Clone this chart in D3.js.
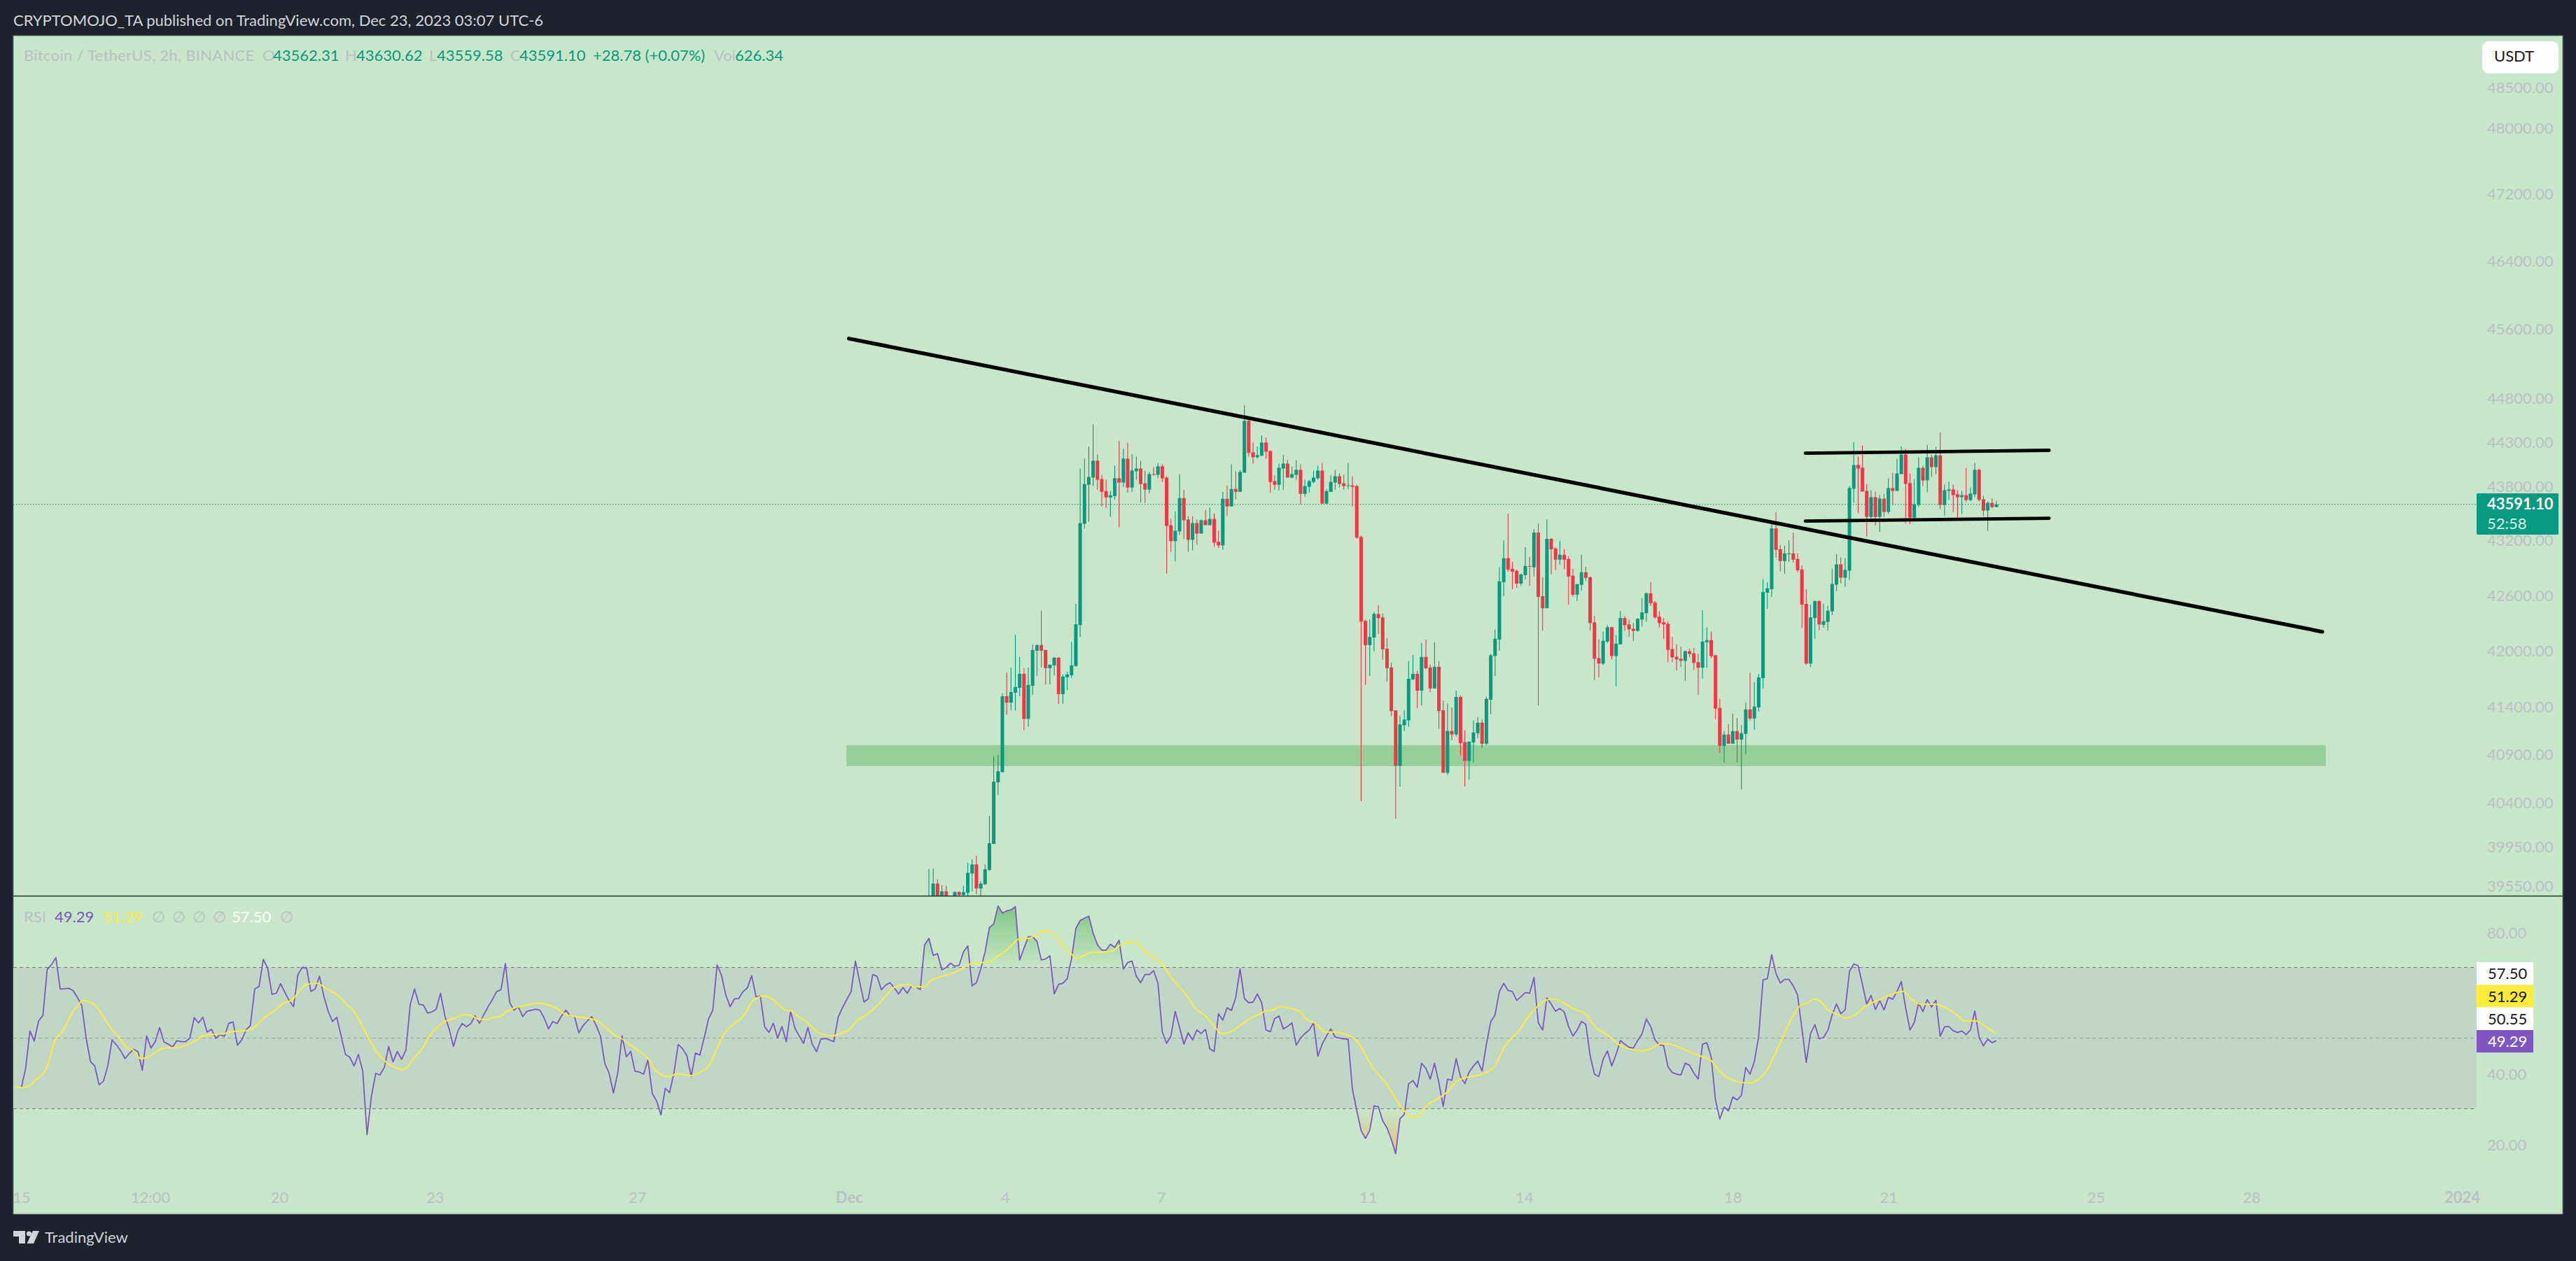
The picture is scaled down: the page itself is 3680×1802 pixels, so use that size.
<!DOCTYPE html>
<html>
<head>
<meta charset="utf-8">
<style>
    html, body { margin: 0; padding: 0; background: #1e222d; }
    svg { display: block; }
    text { font-family: Lato, sans-serif; font-size: 22px; }
</style>
<script src="https://cdn.jsdelivr.net/npm/d3@7"></script>
</head>
<body>
<svg width="3680" height="1802"></svg>
<script>
// 2h candles, one row per bar: open, high, low, close
const candles = [
    [39350,39713,39300,39421],[39380,39718,39340,39567],[39567,39610,39370,39400],[39400,39550,39380,39488],
    [39488,39545,39390,39420],[39330,39430,39300,39410],[39420,39488,39390,39481],[39481,39488,39420,39452],
    [39452,39545,39443,39481],[39474,39776,39420,39675],[39668,39812,39488,39761],[39761,39848,39459,39517],
    [39517,39589,39430,39567],[39560,39761,39553,39711],[39704,40257,39697,39977],[39970,40876,39970,40610],
    [40603,40890,40473,40718],[40710,41536,40703,41506],[41506,41760,41312,41439],[41439,41813,41357,41551],
    [41544,42164,41357,41604],[41596,41925,41506,41745],[41745,41805,41148,41267],[41267,41813,41185,41626],
    [41618,42059,41521,42000],[41992,42064,41723,42052],[42052,42425,41813,41992],[42000,42000,41633,41805],
    [41805,41843,41633,41843],[41835,41925,41730,41917],[41917,41925,41424,41529],[41529,41738,41424,41715],
    [41708,41768,41574,41738],[41730,42089,41701,41835],[41828,42500,41820,42276],[42268,43993,42141,43384],
    [43376,44104,43322,43819],[43811,44239,43399,43898],[43891,44492,43796,44081],[44081,44152,43756,43867],
    [43875,43922,43569,43732],[43740,43867,43554,43669],[43669,43740,43453,43693],[43685,44025,43646,43883],
    [43883,44302,43338,43835],[43835,44215,43788,44104],[44104,44286,43724,43780],[43780,44152,43732,43970],
    [43962,44128,43867,43993],[43993,44081,43615,43819],[43827,43970,43608,43756],[43756,43954,43716,43930],
    [43930,44009,43914,43922],[43922,44057,43883,44017],[44017,44041,43843,43883],[43891,43906,42829,43353],
    [43361,43430,43068,43184],[43184,43515,42960,43299],[43292,43930,43253,43662],[43662,43756,43207,43415],
    [43423,43461,43068,43199],[43199,43461,43083,43384],[43384,43423,43145,43268],[43268,43423,43268,43415],
    [43415,43531,43361,43361],[43361,43554,43361,43430],[43430,43492,43122,43168],[43176,43299,43107,43137],
    [43137,43732,43091,43654],[43654,43803,43461,43569],[43569,44041,43569,43764],[43764,43962,43646,43732],
    [43732,43978,43732,43954],[43946,44706,43946,44532],[44532,44579,44128,44168],[44175,44286,44049,44120],
    [44120,44239,44104,44144],[44136,44365,44136,44286],[44286,44342,44104,44183],[44191,44199,43724,43843],
    [43851,43914,43756,43811],[43811,44049,43748,44001],[43993,44144,43756,44049],[44049,44088,43891,43891],
    [43891,44017,43883,43930],[43922,44088,43867,43978],[43978,44041,43592,43709],[43709,43867,43677,43796],
    [43788,43867,43724,43851],[43843,43970,43827,43891],[43883,44025,43867,43970],[43970,44057,43600,43600],
    [43600,43764,43600,43740],[43732,43914,43732,43843],[43835,43978,43756,43906],[43906,43938,43780,43819],
    [43827,43922,43756,43796],[43796,44057,43764,43804],[43804,43906,43569,43788],[43796,43811,43207,43222],
    [43230,43245,40408,42306],[42313,42328,41626,42052],[42052,42328,41723,42141],[42134,42410,41984,42388],
    [42388,42485,42171,42343],[42350,42395,41895,42007],[42014,42126,41663,41805],[41813,41865,41297,41349],
    [41357,41357,40229,40775],[40775,41297,40559,41208],[41200,41357,41140,41260],[41252,41880,41185,41693],
    [41686,41947,41678,41745],[41745,41775,41379,41566],[41566,42074,41409,41925],[41925,42111,41790,41805],
    [41813,41843,41551,41589],[41589,42082,41589,41820],[41820,41880,41163,41349],[41357,41462,40703,40703],
    [40703,41432,40682,41140],[41140,41387,41043,41103],[41103,41566,41081,41499],[41499,41514,40883,41013],
    [41021,41148,40559,40826],[40826,41028,40631,41028],[41020,41249,40807,41124],[41116,41286,41065,41227],
    [41227,41264,40961,41006],[41006,41500,40991,41478],[41470,41957,41316,41943],[41935,42221,41721,42121],
    [42113,42896,41994,42742],[42735,43195,42581,42996],[42996,43487,42850,42873],[42880,42957,42658,42850],
    [42857,42873,42673,42719],[42719,42827,42696,42819],[42811,43118,42765,42911],[42911,43011,42696,42903],
    [42896,43318,42796,43279],[43279,43379,41411,42574],[42581,42788,42205,42451],[42451,43425,42451,43210],
    [43210,43218,42819,43095],[43103,43118,42865,42980],[42980,43187,42927,43034],[43034,43095,42873,42980],
    [42988,43019,42489,42796],[42804,42880,42574,42597],[42597,42712,42528,42712],[42704,43034,42643,42842],
    [42842,42904,42750,42781],[42788,42796,42205,42290],[42298,42367,41677,41906],[41913,42113,41707,41854],
    [41854,42198,41839,42098],[42090,42267,42075,42244],[42244,42252,41898,41935],[41935,42160,41611,42068],
    [42061,42420,42061,42344],[42344,42367,42205,42267],[42275,42328,42144,42221],[42229,42290,42098,42205],
    [42205,42344,42198,42336],[42328,42558,42251,42405],[42397,42620,42305,42612],[42612,42735,42474,42505],
    [42512,42528,42336,42351],[42359,42420,42244,42290],[42298,42344,42121,42275],[42282,42305,41869,42002],
    [42009,42144,41869,41921],[41928,42061,41780,41898],[41906,42039,41817,41884],[41884,41994,41670,41987],
    [41987,42016,41921,41957],[41965,42024,41788,41862],[41869,41957,41522,41810],[41810,42428,41692,42090],
    [42083,42244,41810,42106],[42106,42198,41913,41935],[41943,41950,41264,41375],[41382,41478,40910,40984],
    [40984,41139,40807,41102],[41102,41212,41006,41006],[41006,41323,41006,41139],[41139,41279,40807,41050],
    [41050,41205,40530,41116],[41109,41441,40895,41367],[41367,41758,41249,41271],[41271,41655,41153,41397],
    [41389,41743,41345,41707],[41699,42766,41589,42627],[42620,42735,42443,42666],[42658,43387,42574,43325],
    [43325,43502,43003,43088],[43095,43141,42850,42965],[42965,43134,42827,43049],[43042,43195,42957,43049],
    [43049,43279,42950,42980],[42988,43049,42842,42865],[42873,42919,42236,42489],[42497,42658,41839,41854],
    [41854,42489,41817,42351],[42344,42535,42121,42528],[42528,42535,42213,42275],[42271,42501,42241,42310],
    [42302,42478,42210,42424],[42417,42883,42378,42715],[42707,43043,42638,42929],[42929,43005,42722,42783],
    [42783,42998,42684,42868],[42860,43797,42761,43774],[43766,44291,43609,44032],[44032,44127,43492,43993],
    [44001,44252,43735,43735],[43742,43821,43234,43452],[43452,43750,43437,43672],[43672,43735,43358,43452],
    [43452,43695,43288,43656],[43656,43711,43452,43507],[43507,43883,43484,43774],[43774,43946,43586,43742],
    [43742,44103,43742,43938],[43931,44244,43931,44150],[44150,44213,43382,43821],[43829,43938,43374,43445],
    [43445,43876,43413,43593],[43586,44119,43562,44001],[44001,44025,43797,43860],[43860,44260,43727,44119],
    [44119,44150,43899,44009],[44009,44236,43931,44142],[44142,44401,43539,43586],[43586,43813,43468,43750],
    [43742,43844,43640,43758],[43758,43813,43507,43695],[43703,43750,43413,43672],[43672,43742,43484,43695],
    [43695,44001,43617,43641],[43641,43782,43625,43711],[43703,44056,43672,43978],[43978,43993,43625,43641],
    [43648,43688,43460,43523],[43523,43625,43296,43609],[43609,43656,43546,43562],[43562.31,43630.62,43559.58,43591.10]
];

// RSI, one value per bar, the last one belongs to the last candle
const rsiValues = [
    36.0,41.4,52.0,49.2,54.9,56.4,69.5,70.8,72.8,63.9,64.0,64.1,63.4,61.5,59.2,50.0,43.4,42.1,36.8,37.8,
    42.1,49.5,48.1,46.4,44.2,45.7,46.8,46.2,40.9,50.6,47.2,49.0,53.0,48.9,48.3,47.5,49.3,49.0,49.0,50.0,
    55.8,54.3,55.9,51.7,52.5,49.9,51.0,50.5,54.2,54.6,48.0,49.5,52.3,53.6,63.9,64.6,72.3,69.8,62.4,62.7,
    65.4,62.9,60.6,58.9,68.0,70.0,69.9,63.2,63.9,67.5,61.9,57.6,54.7,55.9,50.6,45.4,44.6,42.1,45.4,40.7,
    22.7,33.5,40.0,39.6,41.7,47.6,43.3,46.2,44.0,46.7,59.6,63.9,59.6,59.4,57.1,57.4,58.2,62.7,56.3,52.6,
    47.6,52.0,54.1,53.2,54.1,56.3,54.2,56.6,58.9,60.9,63.2,63.7,71.1,60.1,57.9,58.9,56.1,57.6,57.9,58.2,
    57.9,55.6,52.6,54.7,54.1,56.3,57.9,56.3,56.1,51.5,53.6,54.9,56.1,53.6,50.6,42.9,40.1,34.5,40.1,50.6,
    44.7,46.2,40.6,40.4,39.8,43.9,34.3,32.2,28.3,35.8,34.6,40.1,48.2,47.0,45.0,39.2,45.8,45.2,50.0,55.4,
    57.9,70.7,67.8,62.2,58.9,61.1,61.2,63.2,64.2,67.7,61.7,61.9,53.2,51.6,54.2,50.0,53.3,49.0,57.6,52.8,
    50.6,48.5,53.0,48.3,46.2,49.7,49.9,49.5,49.0,55.9,58.6,60.9,63.2,71.8,65.8,60.2,61.2,68.0,67.5,
    63.7,65.0,65.7,64.2,62.5,64.3,62.7,64.8,64.5,63.7,76.4,78.2,73.4,73.9,69.3,70.0,71.2,70.3,70.6,
    74.4,76.1,64.8,65.7,69.5,74.4,81.3,82.3,87.4,85.4,86.0,86.3,87.2,72.1,75.4,78.7,78.7,77.4,72.1,72.4,
    73.3,62.5,65.2,65.5,66.8,72.4,81.0,83.3,83.9,84.5,79.7,76.4,74.9,74.9,76.6,75.7,77.7,69.6,71.4,71.8,
    67.5,65.7,68.0,68.0,69.1,65.5,51.8,48.5,50.6,57.6,53.0,48.3,51.5,49.5,52.3,51.3,52.5,47.0,46.2,56.9,
    55.1,58.6,57.8,61.5,69.6,61.2,60.0,60.2,62.5,60.0,52.3,51.8,55.5,56.3,52.6,53.3,54.3,48.0,50.0,51.3,
    52.3,54.3,44.9,48.3,50.6,52.6,50.3,50.0,49.8,49.7,35.5,29.5,23.9,21.6,23.9,30.8,30.6,26.6,24.6,21.3,
    17.3,27.2,28.4,37.1,38.0,36.1,42.9,41.4,38.4,42.9,37.4,30.7,38.4,38.1,44.2,39.1,37.1,40.4,42.1,43.5,
    40.7,48.3,54.6,56.6,63.2,65.5,63.5,63.2,60.7,61.7,62.9,62.7,67.2,54.3,52.3,61.4,59.6,57.6,58.4,57.4,
    53.3,50.6,52.3,54.7,53.9,45.0,39.8,39.1,44.0,46.4,42.1,45.4,49.3,48.3,47.4,47.2,49.3,51.2,55.4,53.3,
    49.5,48.1,47.9,41.9,40.3,39.8,39.6,42.9,42.3,40.1,38.4,48.3,48.7,44.7,32.5,27.1,30.5,29.4,33.3,32.5,33.8,
    41.7,39.8,43.4,50.6,66.5,66.8,73.6,68.3,65.6,66.6,66.6,64.8,62.2,52.6,43.1,51.3,53.8,49.8,50.2,52.2,
    56.6,59.7,56.9,58.0,68.8,71.0,70.5,65.2,59.6,62.1,58.1,60.6,58.0,61.5,61.0,63.2,66.0,58.6,52.3,54.4,
    59.9,57.5,60.9,58.8,60.7,50.5,53.2,53.3,52.1,51.6,52.0,51.0,52.3,57.7,50.2,47.8,49.7,48.7,49.29
];

const rsiMa = [
    [-211.3,36.3],[-209.7,36.0],[-207.8,36.8],[-206.5,38.4],[-205.6,39.1],[-203.9,42.4],[-202.4,48.7],[-200.3,52.3],
    [-198.5,56.6],[-196.8,59.4],[-195.7,60.7],[-194.2,60.2],[-193,59.4],[-190.4,54.9],[-188.4,51.5],[-187.4,50.3],
    [-185.5,47.3],[-183.9,46.4],[-182.4,44.2],[-180.7,44.6],[-179.4,45.5],[-178.1,46.7],[-176.2,47.3],[-173.8,47.3],
    [-171.6,48.1],[-169.7,49.2],[-168.4,50.5],[-166.5,51.0],[-163.3,51.2],[-161.3,51.9],[-158.1,52.1],[-156.2,53.0],
    [-154.2,55.3],[-151.6,57.6],[-149.1,60.1],[-147.5,60.6],[-145.8,63.2],[-143.9,65.2],[-141.6,65.5],[-140,64.5],
    [-138.7,63.5],[-136.5,61.9],[-134.8,59.6],[-133.2,57.9],[-131.6,54.6],[-129.7,50.0],[-127.7,46.0],[-125.8,43.4],
    [-123.5,41.7],[-121.9,41.1],[-120.6,41.9],[-119.4,44.0],[-117.4,46.7],[-115.5,50.6],[-113.5,53.3],[-112,54.7],
    [-109.7,55.6],[-107.7,56.7],[-106,56.4],[-104.1,55.4],[-102.6,55.3],[-100.6,55.9],[-99.1,56.1],[-98,57.3],
    [-95.5,58.7],[-92.9,59.4],[-90.3,59.9],[-88.6,59.6],[-85.8,58.2],[-84.1,56.7],[-81.9,56.1],[-78,55.4],
    [-76.5,54.8],[-74.4,52.6],[-72.9,51.0],[-71.3,50.0],[-69,48.0],[-67.4,46.6],[-65.1,44.4],[-63.6,41.4],
    [-61.9,39.6],[-60.2,39.1],[-58.3,39.9],[-54.8,39.4],[-52.9,40.4],[-51.2,41.7],[-49.6,45.4],[-47.7,50.6],
    [-46.4,52.6],[-44.5,54.6],[-42.5,56.9],[-41.2,59.9],[-39.6,61.5],[-38.3,62.0],[-36.5,61.3],[-34.8,59.6],
    [-33.1,57.9],[-31.8,57.6],[-29.6,55.6],[-28.3,54.6],[-26.6,52.6],[-25.1,51.3],[-22.3,50.6],[-20.6,51.3],
    [-18.4,52.4],[-16.7,54.9],[-14.4,56.6],[-12.4,58.7],
    [-10.5,61.2],[-8.6,63.9],[-6.7,64.9],[-4.7,65.2],[-3.2,64.5],[-1.2,64.5],[0.4,66.2],[3,67.5],
    [5,68.1],[7.5,69.5],[10.1,71.2],[14,71.6],[15.9,73.1],[18.5,75.4],[20.8,78.0],[23,78.2],
    [25,79.4],[26.7,80.4],[28.2,80.0],[29.5,78.7],[30.8,76.4],[32.7,74.1],[34.3,72.6],[35.9,73.4],
    [37.6,74.3],[39.8,74.3],[42.4,74.7],[44.6,76.6],[46.9,77.3],[48.2,76.7],[50.8,73.8],[53.6,71.4],
    [55.3,68.5],[57.2,65.5],[59.4,62.5],[61.8,58.2],[63.7,56.6],[65.9,53.6],[67.6,51.4],[68.9,51.4],
    [71.4,53.0],[74,55.3],[76.6,56.9],[78.3,57.8],[79.6,57.9],[81.1,58.9],[83.7,58.4],[85.7,57.6],
    [87.2,55.6],[89.5,54.1],[91.7,51.8],[94,51.7],[97.9,50.3],[99.9,47.7],[101.8,43.4],[103.7,40.1],
    [105.9,37.1],[108.3,32.2],[110.2,29.2],[112.1,27.5],[113.2,27.9],[115.4,31.2],[118,33.0],[119.9,34.8],
    [122.1,37.8],[124.4,38.9],[127.6,39.6],[130.9,42.1],[133.4,48.0],[135.1,50.3],[136.9,52.6],[138.6,55.9],
    [140.5,58.6],[142.5,60.6],[144.4,61.1],[147,59.9],[149.3,58.2],[151.8,56.9],[154.7,52.6],[156.9,51.0],
    [159.5,48.3],[161.8,47.0],[165.1,46.4],[167,47.0],[169.6,48.5],[172.2,48.1],[174.7,46.8],[177.3,45.5],
    [178.6,44.9],[180.9,43.7],[182.8,40.8],[185.1,38.6],[187.7,37.5],[190,37.3],
    [191.3,37.8],[194,41.1],[195.6,45.0],[197.5,50.0],[199.5,55.3],[201.8,59.4],[203,59.8],[205,61.1],
    [205.9,60.7],[208.5,57.6],[210.4,56.6],[212.1,55.7],[214.3,56.6],[216.9,59.2],[220.1,60.9],[222.7,62.4],
    [225.5,63.2],[227.2,61.2],[229.5,59.6],[233,59.6],[235.6,58.4],[237.8,56.6],[239.7,54.9],[242.1,54.9],
    [245.3,52.6],[246.9,51.29]
];

const priceTicks = [48500, 48000, 47200, 46400, 45600, 44800, 44300, 43800, 43200, 42600, 42000, 41400, 40900, 40400, 39950, 39550];
const rsiTicks = [80, 40, 20];
const rsiLevels = [70, 50, 30];
const rsiTags = ['57.50', '51.29', '50.55', '49.29'];
const timeBars = [-210, -180.2, -150.3, -114.3, -67.5, -18.5, 17.6, 53.7, 101.6, 137.7, 186, 222, 270, 306, 354.7];
const timeLabels = ['15', '12:00', '20', '23', '27', 'Dec', '4', '7', '11', '14', '18', '21', '25', '28', '2024'];

const lastPrice = 43591.10;
// hand drawn objects, in bars and prices
const supportZone = { bars: [-19.1, 323.2], prices: [40991, 40771] };
const trendLine = [[-18.5, 45478], [322.4, 42196]];
const channelTop = [[202.8, 44166], [259.2, 44198]];
const channelBottom = [[202.8, 43407], [259.2, 43438]];

const green = '#089981';
const red = '#f23645';
const purple = '#7e57c2';
const yellow = '#ffeb3b';
const axisGrey = '#bdbfca';

const left = 19;
const right = 3661;
const axisX = 3538;
const top_ = 51;
const paneBottom = 1280;
const bottom = 1735;

const svg = d3.select('svg');

const x = d3.scaleLinear().domain([0, 247]).range([1327, 2852]);
const y = d3.scaleLog().domain([48500, 39550]).range([124, 1265]);
const rsiY = d3.scaleLinear().domain([80, 20]).range([1332, 1635]);

svg.append('rect')
    .attr('x', left)
    .attr('y', top_)
    .attr('width', right - left)
    .attr('height', bottom - top_)
    .attr('fill', '#c8e6c9')
    .attr('stroke', '#6c7a72')
    .attr('stroke-width', 1);

const defs = svg.append('defs');
defs.append('clipPath').attr('id', 'priceClip').append('rect')
    .attr('x', left).attr('y', top_).attr('width', axisX - left).attr('height', paneBottom - top_);
defs.append('clipPath').attr('id', 'overClip').append('rect')
    .attr('x', left).attr('y', paneBottom).attr('width', axisX - left).attr('height', rsiY(70) - paneBottom);
defs.append('clipPath').attr('id', 'underClip').append('rect')
    .attr('x', left).attr('y', rsiY(30)).attr('width', axisX - left).attr('height', bottom - rsiY(30));

const overGrad = defs.append('linearGradient').attr('id', 'overGrad')
    .attr('gradientUnits', 'userSpaceOnUse').attr('x1', 0).attr('x2', 0).attr('y1', rsiY(88)).attr('y2', rsiY(70));
overGrad.append('stop').attr('offset', 0).attr('stop-color', '#4caf50').attr('stop-opacity', 0.6);
overGrad.append('stop').attr('offset', 1).attr('stop-color', '#4caf50').attr('stop-opacity', 0);
const underGrad = defs.append('linearGradient').attr('id', 'underGrad')
    .attr('gradientUnits', 'userSpaceOnUse').attr('x1', 0).attr('x2', 0).attr('y1', rsiY(30)).attr('y2', rsiY(17));
underGrad.append('stop').attr('offset', 0).attr('stop-color', '#f2a23c').attr('stop-opacity', 0);
underGrad.append('stop').attr('offset', 1).attr('stop-color', '#f2a23c').attr('stop-opacity', 0.55);

// price pane
const price = svg.append('g').attr('clip-path', 'url(#priceClip)');

price.append('rect')
    .attr('x', x(supportZone.bars[0]))
    .attr('y', y(supportZone.prices[0]))
    .attr('width', x(supportZone.bars[1]) - x(supportZone.bars[0]))
    .attr('height', y(supportZone.prices[1]) - y(supportZone.prices[0]))
    .attr('fill', '#97cf98');

price.append('line')
    .attr('x1', left)
    .attr('x2', axisX)
    .attr('y1', y(lastPrice))
    .attr('y2', y(lastPrice))
    .attr('stroke', green)
    .attr('stroke-width', 1.2)
    .attr('stroke-dasharray', '1.5 2.5');

const bars = price.selectAll('.candle')
    .data(candles)
    .enter()
    .append('g')
    .attr('class', 'candle')
    .attr('fill', (d) => d[3] >= d[0] ? green : red)
    .attr('stroke', (d) => d[3] >= d[0] ? green : red);

bars.append('line')
    .attr('x1', (d, i) => x(i))
    .attr('x2', (d, i) => x(i))
    .attr('y1', (d) => y(d[1]))
    .attr('y2', (d) => y(d[2]))
    .attr('stroke-width', 1.1);

bars.append('rect')
    .attr('x', (d, i) => x(i) - 2.5)
    .attr('y', (d) => y(Math.max(d[0], d[3])))
    .attr('width', 5)
    .attr('height', (d) => Math.max(1, Math.abs(y(d[0]) - y(d[3]))))
    .attr('stroke', 'none');

const drawnLine = d3.line().x((d) => x(d[0])).y((d) => y(d[1]));
[trendLine, channelTop, channelBottom].forEach((pts, i) => {
    price.append('path')
        .attr('d', drawnLine(pts))
        .attr('fill', 'none')
        .attr('stroke', '#000000')
        .attr('stroke-width', i === 0 ? 5.4 : 4.8)
        .attr('stroke-linecap', 'round');
});

svg.append('line')
    .attr('x1', left)
    .attr('x2', right)
    .attr('y1', paneBottom + 0.5)
    .attr('y2', paneBottom + 0.5)
    .attr('stroke', '#2a2e39')
    .attr('stroke-width', 1.5);

// RSI pane
svg.append('rect')
    .attr('x', left)
    .attr('y', rsiY(70))
    .attr('width', axisX - left)
    .attr('height', rsiY(30) - rsiY(70))
    .attr('fill', '#c0d6c6');

svg.selectAll('.level')
    .data(rsiLevels)
    .enter()
    .append('line')
    .attr('class', 'level')
    .attr('x1', left)
    .attr('x2', axisX)
    .attr('y1', (d) => rsiY(d))
    .attr('y2', (d) => rsiY(d))
    .attr('stroke', '#787b86')
    .attr('stroke-opacity', (d) => d === 50 ? 0.55 : 1)
    .attr('stroke-width', 1.2)
    .attr('stroke-dasharray', '5 4');

const rsiBar = (k) => 247 - (rsiValues.length - 1 - k);

const rsiArea = (level) => d3.area()
    .x((d, k) => x(rsiBar(k)))
    .y0(rsiY(level))
    .y1((d) => rsiY(d));

svg.append('path')
    .attr('d', rsiArea(70)(rsiValues))
    .attr('clip-path', 'url(#overClip)')
    .attr('fill', 'url(#overGrad)');

svg.append('path')
    .attr('d', rsiArea(30)(rsiValues))
    .attr('clip-path', 'url(#underClip)')
    .attr('fill', 'url(#underGrad)');

svg.append('path')
    .attr('d', d3.line().x((d, k) => x(rsiBar(k))).y((d) => rsiY(d))(rsiValues))
    .attr('fill', 'none')
    .attr('stroke', purple)
    .attr('stroke-width', 1.8)
    .attr('stroke-linejoin', 'round');

svg.append('path')
    .attr('d', d3.line().x((d) => x(d[0])).y((d) => rsiY(d[1])).curve(d3.curveMonotoneX)(rsiMa))
    .attr('fill', 'none')
    .attr('stroke', yellow)
    .attr('stroke-width', 2);

// axes
const priceAxis = d3.axisRight(y)
    .tickValues(priceTicks)
    .tickFormat(d3.format('.2f'))
    .tickSize(0)
    .tickPadding(15);

const rsiAxis = d3.axisRight(rsiY)
    .tickValues(rsiTicks)
    .tickFormat(d3.format('.2f'))
    .tickSize(0)
    .tickPadding(15);

const timeScale = d3.scaleLinear().domain(x.domain()).range(x.range());
const timeAxis = d3.axisBottom(timeScale)
    .tickValues(timeBars)
    .tickFormat((d, i) => timeLabels[i])
    .tickSize(0)
    .tickPadding(0);

[
    [priceAxis, `translate(${axisX}, 1.5)`],
    [rsiAxis, `translate(${axisX}, 1.5)`],
    [timeAxis, 'translate(0, 1703.5)']
].forEach(([axis, transform]) => {
    const g = svg.append('g').attr('transform', transform).call(axis);
    g.select('.domain').remove();
    g.selectAll('text')
        .attr('fill', axisGrey)
        .attr('font-size', 22)
        .attr('font-family', 'Lato, sans-serif')
        .attr('font-weight', (d, i) => axis === timeAxis && (timeLabels[i] === 'Dec' || timeLabels[i] === '2024') ? 700 : 400);
});

// price tag and USDT button
svg.append('rect')
    .attr('x', axisX)
    .attr('y', 705)
    .attr('width', 117)
    .attr('height', 59)
    .attr('rx', 2)
    .attr('fill', green);

// middle baseline sits a bit high in Lato, hence the 2px
const label = (txt, lx, ly, fill, extra) => {
    const t = svg.append('text')
        .attr('x', lx)
        .attr('y', ly + 2)
        .attr('fill', fill)
        .attr('dominant-baseline', 'middle')
        .text(txt);
    if (extra) Object.keys(extra).forEach((k) => t.attr(k, extra[k]));
    return t;
};

label(d3.format('.2f')(lastPrice), 3553, y(lastPrice), '#ffffff', { 'font-weight': 700 });
label('52:58', 3553, 748, '#ffffff', { opacity: 0.85 });

svg.append('rect')
    .attr('x', 3546)
    .attr('y', 59)
    .attr('width', 109)
    .attr('height', 46)
    .attr('rx', 9)
    .attr('fill', '#ffffff');
label('USDT', 3563, 80, '#131722', { 'font-size': 21 });

// RSI value tags
const tagFill = ['#ffffff', yellow, '#ffffff', purple];
const tagText = ['#131722', '#131722', '#131722', '#ffffff'];
const tagTop = [1375, 1407.5, 1439.5, 1472];
rsiTags.forEach((tag, i) => {
    svg.append('rect')
        .attr('x', axisX)
        .attr('y', tagTop[i])
        .attr('width', 81)
        .attr('height', i === 3 ? 32 : tagTop[i + 1] - tagTop[i])
        .attr('fill', tagFill[i]);
    label(tag, 3554, tagTop[i] + 16.5, tagText[i]);
});

// top and legend texts
label('CRYPTOMOJO_TA published on TradingView.com, Dec 23, 2023 03:07 UTC-6', left, 29, '#d1d4dc');

const legend = [
    ['Bitcoin / TetherUS, 2h, BINANCE', 34, axisGrey], ['O', 375, axisGrey], ['43562.31', 390, green],
    ['H', 493, axisGrey], ['43630.62', 509, green], ['L', 613, axisGrey], ['43559.58', 624, green],
    ['C', 729, axisGrey], ['43591.10', 742, green], ['+28.78 (+0.07%)', 847, green],
    ['Vol', 1020, axisGrey], ['626.34', 1050, green]
];
legend.forEach((d, i) => label(d[0], d[1], 79, d[2], i === 0 ? { 'letter-spacing': 0.3 } : null));

const rsiLegend = [
    ['RSI', 34, axisGrey], ['49.29', 78, purple], ['51.29', 147, yellow], ['\u2205', 217, axisGrey],
    ['\u2205', 246, axisGrey], ['\u2205', 275, axisGrey], ['\u2205', 304, axisGrey],
    ['57.50', 331, '#ffffff'], ['\u2205', 400, axisGrey]
];
rsiLegend.forEach((d) => label(d[0], d[1], 1310, d[2]));

// footer logo
const logo = svg.append('g').attr('fill', '#d1d4dc');
logo.append('path').attr('d', 'M19 1759H36V1777H27V1767H19Z');
logo.append('circle').attr('cx', 41.5).attr('cy', 1763).attr('r', 3.6);
logo.append('path').attr('d', 'M47 1759H56L48 1777H38.5Z');
label('TradingView', 64, 1768, '#d1d4dc', { 'font-size': 27 });
</script>
</body>
</html>
